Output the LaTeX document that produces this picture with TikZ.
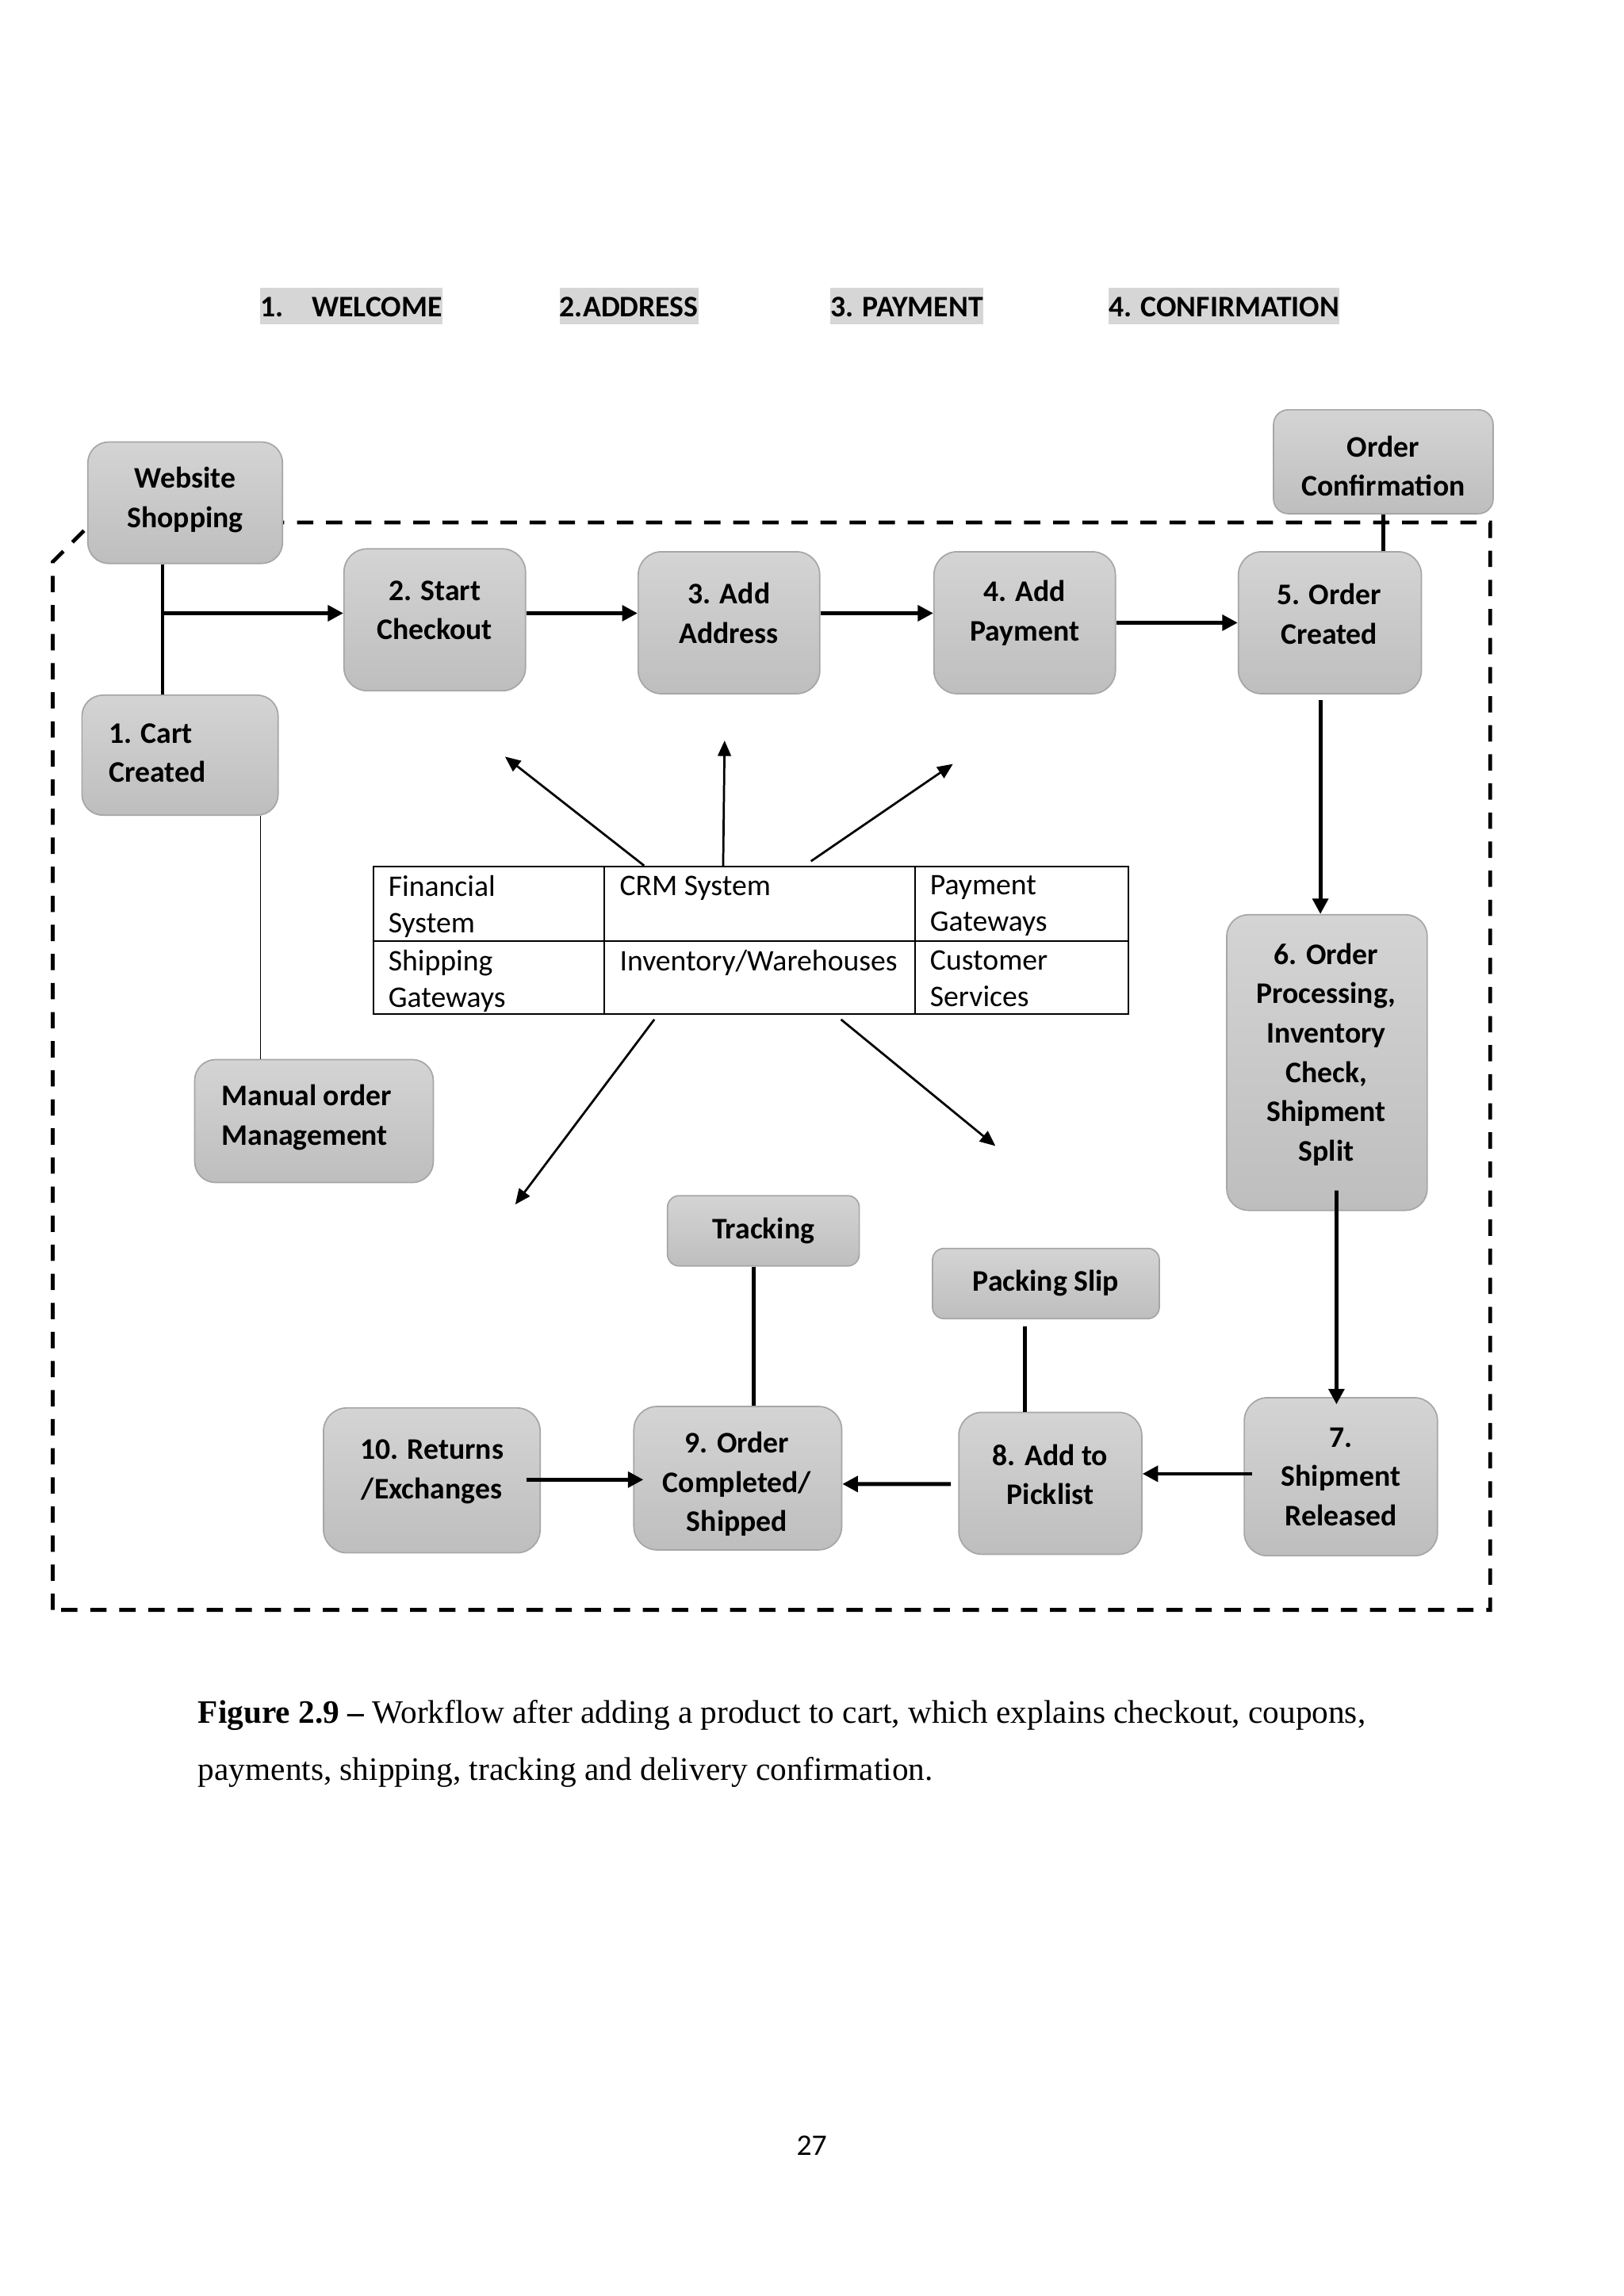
\documentclass[tikz,border=0pt]{standalone}
\usepackage{fontspec}
\setmainfont{Carlito}
\newfontfamily\timesfont{Liberation Serif}
\usetikzlibrary{arrows.meta}

\definecolor{boxtop}{HTML}{D4D4D4}
\definecolor{boxbottom}{HTML}{BEBEBE}
\definecolor{boxedge}{HTML}{A6A6A6}
\definecolor{marker}{HTML}{D6D6D6}

\newcommand{\pxu}{0.18929mm}

\tikzset{
  stage/.style={draw=boxedge, line width=0.5pt, rounded corners=2.7mm,
    top color=boxtop, bottom color=boxbottom, inner sep=0pt},
  stagetext/.style={inner sep=0pt, align=center, yshift=-2*\pxu,
    font=\fontsize{11}{14.5}\selectfont\bfseries},
  phase/.style={fill=marker, anchor=west, inner xsep=0pt, inner ysep=0pt,
    text height=10.5pt, text depth=2.95pt, font=\fontsize{11}{13.4}\selectfont\bfseries},
  cell/.style={anchor=north west, inner sep=0pt, align=left, yshift=-1*\pxu,
    font=\fontsize{11}{13.4}\selectfont},
  flow/.style={line width=1.4pt, -{Triangle[length=2mm,width=2mm]}},
  link/.style={line width=1.4pt},
  feed/.style={line width=0.8pt, -{Triangle[length=2mm,width=1.7mm]}},
  borderline/.style={line width=1.4pt, dash pattern=on 6pt off 4.7pt},
}

\begin{document}
\begin{tikzpicture}[x=\pxu, y=-\pxu]

\path[use as bounding box, fill=white] (0,0) rectangle (1109.4,1568.8);

\node[phase] (ph1) at (177.5,209.3) {1.\hspace{10.4pt}WELCOME};
\node[phase] (ph2) at (382,209.3) {2.ADDRESS};
\node[phase] (ph3) at (567,209.3) {3. PAYMENT};
\node[phase] (ph4) at (757,209.3) {4. CONFIRMATION};

\draw[borderline] (36,1100) -- (36,384) -- (63,357) -- (1018,357) -- (1018,1100) -- cycle;

\node[stage, minimum width=133*\pxu, minimum height=83*\pxu] (shop) at (126.5,343.5) {};
\node[stage, minimum width=134*\pxu, minimum height=82*\pxu] (cart) at (123,516) {};
\node[stage, minimum width=124*\pxu, minimum height=97*\pxu, rounded corners=3mm] (chk) at (297,423.5) {};
\node[stage, minimum width=124*\pxu, minimum height=97*\pxu, rounded corners=3mm] (addr) at (498,425.5) {};
\node[stage, minimum width=124*\pxu, minimum height=97*\pxu, rounded corners=3mm] (pay) at (700,425.5) {};
\node[stage, minimum width=125*\pxu, minimum height=97*\pxu, rounded corners=3mm] (created) at (908.5,425.5) {};
\node[stage, minimum width=150*\pxu, minimum height=71*\pxu, rounded corners=1.9mm] (confirm) at (945,315.5) {};
\node[stage, minimum width=137*\pxu, minimum height=202*\pxu, rounded corners=2.8mm] (proc) at (906.5,726) {};
\node[stage, minimum width=132*\pxu, minimum height=108*\pxu, rounded corners=3mm] (ship) at (916,1009) {};
\node[stage, minimum width=125*\pxu, minimum height=97*\pxu, rounded corners=3mm] (pick) at (717.5,1013.5) {};
\node[stage, minimum width=142*\pxu, minimum height=98*\pxu, rounded corners=3mm] (done) at (504,1010) {};
\node[stage, minimum width=148*\pxu, minimum height=99*\pxu, rounded corners=3mm] (ret) at (295,1011.5) {};
\node[stage, minimum width=131*\pxu, minimum height=48*\pxu, rounded corners=1.5mm] (track) at (521.5,841) {};
\node[stage, minimum width=155*\pxu, minimum height=48*\pxu, rounded corners=1.5mm] (slip) at (714.5,877) {};
\node[stage, minimum width=163*\pxu, minimum height=84*\pxu] (manual) at (214.5,766) {};

\node[stagetext] (shop-t) at (126.5,339.5) {Website\\Shopping};
\node[stagetext, align=left, anchor=west] (cart-t) at (74,512.5) {1. Cart\\Created};
\node[stagetext] (chk-t) at (297,415) {2. Start\\Checkout};
\node[stagetext] (addr-t) at (498,417) {3. Add\\Address};
\node[stagetext] (pay-t) at (700,417) {4. Add\\Payment};
\node[stagetext] (created-t) at (908,417.5) {5. Order\\Created};
\node[stagetext] (confirm-t) at (945,316.5) {Order\\Confirmation};
\node[stagetext] (proc-t) at (906,718.5) {6. Order\\Processing,\\Inventory\\Check,\\Shipment\\Split};
\node[stagetext] (ship-t) at (916,1007) {7.\\Shipment\\Released};
\node[stagetext] (pick-t) at (717.5,1005.5) {8. Add to\\Picklist};
\node[stagetext] (done-t) at (503.5,1012) {9. Order\\Completed/\\Shipped};
\node[stagetext] (ret-t) at (295,1003.5) {10. Returns\\/Exchanges};
\node[stagetext] (track-t) at (521.5,839) {Tracking};
\node[stagetext] (slip-t) at (714.5,875) {Packing Slip};
\node[stagetext, align=left, anchor=west] (manual-t) at (151,761.5) {Manual order\\Management};

\node[draw, line width=0.6pt, inner sep=0pt, minimum width=516*\pxu, minimum height=101*\pxu] (sys) at (513,642.5) {};
\draw[line width=0.6pt] (413,592) -- (413,693) (625,592) -- (625,693) (255,643) -- (771,643);
\node[cell] (fin) at (265,597) {Financial\\System};
\node[cell] (crm) at (423,597) {CRM System};
\node[cell] (pgw) at (635,597) {Payment\\Gateways};
\node[cell] (sgw) at (265,648) {Shipping\\Gateways};
\node[cell] (inv) at (423,648) {Inventory/Warehouses};
\node[cell] (cus) at (635,648) {Customer\\Services};

\coordinate (j1) at (111,419);
\draw[link] (shop.south -| j1) -- (cart.north -| j1);
\draw[flow] (j1) -- (j1 -| chk.west);
\draw[flow] (chk.east |- j1) -- (addr.west |- j1);
\draw[flow] (addr.east |- j1) -- (pay.west |- j1);
\draw[flow] (pay.east) -- (created.west);
\draw[link] (confirm.south) -- (confirm.south |- created.north);
\draw[flow] ([xshift=-6.5*\pxu,yshift=-4*\pxu]created.south) -- ([xshift=-4.5*\pxu]proc.north);
\draw[flow] ([xshift=6.5*\pxu,yshift=14*\pxu]proc.south) -- ([xshift=-3*\pxu,yshift=-5*\pxu]ship.north);
\draw[flow] ([xshift=6*\pxu,yshift=2*\pxu]ship.west) -- ([yshift=6.5*\pxu]pick.east);
\draw[flow] ([xshift=-5*\pxu,yshift=-0.5*\pxu]pick.west) -- ([yshift=-4*\pxu]done.east);
\draw[flow] ([xshift=-10*\pxu,yshift=0.5*\pxu]ret.east) -- ([xshift=7*\pxu,yshift=-1*\pxu]done.west);
\draw[link] ([xshift=-6.5*\pxu]track.south) -- ([xshift=11*\pxu]done.north);
\draw[link] ([xshift=-14.5*\pxu,yshift=-5*\pxu]slip.south) -- ([xshift=-17.5*\pxu]pick.north);
\draw[line width=0.5pt] ([xshift=55*\pxu]cart.south) -- ([xshift=-36.5*\pxu]manual.north);

\coordinate (upfin) at (345,517);
\coordinate (upcrm) at (495,506);
\coordinate (uppay) at (651,522);
\coordinate (downship) at (352,823);
\coordinate (downcus) at (680,783);
\draw[feed] ([xshift=-73*\pxu]sys.north) -- (upfin);
\draw[feed] ([xshift=-19*\pxu]sys.north) -- (upcrm);
\draw[feed] ([xshift=41*\pxu,yshift=3*\pxu]sys.north) -- (uppay);
\draw[feed] ([xshift=-66*\pxu,yshift=-3*\pxu]sys.south) -- (downship);
\draw[feed] ([xshift=61.5*\pxu,yshift=-3*\pxu]sys.south) -- (downcus);

\node[anchor=base west, inner sep=0pt, font=\timesfont\fontsize{12.05}{20.7}\selectfont] (cap1) at (135,1177.5) {\textbf{Figure 2.9 –} Workflow after adding a product to cart, which explains checkout, coupons,};
\node[anchor=base west, inner sep=0pt, font=\timesfont\fontsize{12.05}{20.7}\selectfont] (cap2) at (135,1216.5) {payments, shipping, tracking and delivery confirmation.};

\node[font=\fontsize{11}{13}\selectfont] (pageno) at (554.5,1466) {27};

\end{tikzpicture}
\end{document}
